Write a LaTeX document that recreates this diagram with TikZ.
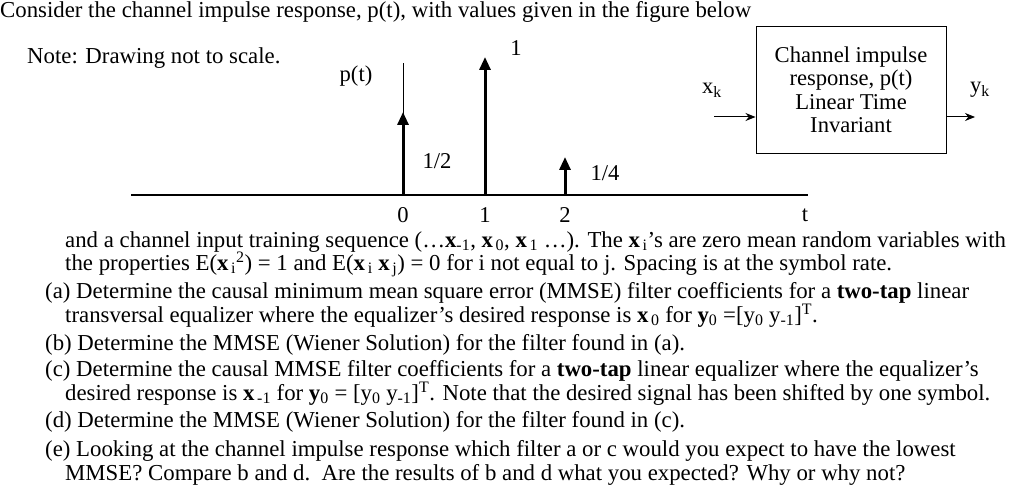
\documentclass[tikz,border=0pt]{standalone}
\usepackage{fontspec}
\setmainfont{Liberation Serif}
\usetikzlibrary{arrows.meta}
\newcommand{\sbs}[1]{\textsubscript{#1}}
\newcommand{\spp}[1]{\textsuperscript{#1}}
\begin{document}
\begin{tikzpicture}[x=1pt,y=-1pt,
  txt/.style={anchor=base west,inner sep=0pt,font=\fontsize{22.8}{26}\selectfont},
  lbl/.style={inner sep=0pt,font=\fontsize{22.6}{26}\selectfont},
  imp/.style={line width=3pt,-{Triangle[length=13pt,width=11pt]}},
  thin/.style={line width=1pt,-{Stealth[length=10pt,width=8pt]}}]
\useasboundingbox (0,0) rectangle (1024,489);
\node[txt] (l0) at (0,18) {Consider the channel impulse response, p(t), with values given in the figure below};
\node[txt] (note) at (27,64) {Note: Drawing not to scale.};
% axis
\coordinate (axL) at (131,195); \coordinate (axR) at (808,195);
\draw[line width=1.4pt] (axL) -- (axR);
\coordinate (pt0) at (403,195); \coordinate (ptop) at (403,63);
\draw[line width=0.8pt] (pt0) -- (ptop);
\node[lbl] (pl) at (356,76) {p(t)};
\coordinate (i0) at (403,112); \coordinate (b1) at (485,195); \coordinate (i1) at (485,57);
\coordinate (b2) at (565,195); \coordinate (i2) at (565,157);
\draw[imp] (pt0) -- (i0);
\draw[imp] (b1) -- (i1);
\draw[imp] (b2) -- (i2);
\node[lbl] (h1) at (516,48) {1};
\node[lbl] (h0) at (437,161) {1/2};
\node[lbl] (h2) at (605,173) {1/4};
\node[lbl] (t0) at (403,215) {0};
\node[lbl] (t1) at (485,215) {1};
\node[lbl] (t2) at (565,215) {2};
\node[lbl] (tt) at (805,215) {t};
% box
\node[draw,line width=1pt,minimum width=190pt,minimum height=127pt,align=center,inner sep=0pt,
  font=\fontsize{22.6}{23.5}\selectfont] (box) at (851,90) {Channel impulse\\response, p(t)\\Linear Time\\Invariant};
\coordinate (inA) at (714,117); \coordinate (outB) at (975,117);
\draw[thin] (inA) -- (inA -| box.west);
\draw[thin] (outB -| box.east) -- (outB);
\node[lbl] (xk) at (712,90) {x\sbs{k}};
\node[lbl] (yk) at (980,90) {y\sbs{k}};
% text
\node[txt] (t1a) at (65,247) {and a channel input training sequence (\dots\textbf{x}\sbs{-1}, \textbf{x}\sbs{\,0}, \textbf{x}\sbs{\,1} \dots). The \textbf{x}\sbs{\,i}'s are zero mean random variables with};
\node[txt] (t1b) at (65,270) {the properties E(\textbf{x}\sbs{\,i}\spp{2}) = 1 and E(\textbf{x}\sbs{\,i} \textbf{x}\sbs{\,j}) = 0 for i not equal to j. Spacing is at the symbol rate.};
\node[txt] (ta1) at (45,298) {(a) Determine the causal minimum mean square error (MMSE) filter coefficients for a \textbf{two-tap} linear};
\node[txt] (ta2) at (65,322) {transversal equalizer where the equalizer's desired response is \textbf{x}\sbs{\,0} for \textbf{y}\sbs{0} =[y\sbs{0} y\sbs{-1}]\spp{T}.};
\node[txt] (tb) at (45,350) {(b) Determine the MMSE (Wiener Solution) for the filter found in (a).};
\node[txt] (tc1) at (45,376) {(c) Determine the causal MMSE filter coefficients for a \textbf{two-tap} linear equalizer where the equalizer's};
\node[txt] (tc2) at (65,400) {desired response is \textbf{x}\sbs{\,-1} for \textbf{y}\sbs{0} = [y\sbs{0} y\sbs{-1}]\spp{T}. Note that the desired signal has been shifted by one symbol.};
\node[txt] (td) at (45,427) {(d) Determine the MMSE (Wiener Solution) for the filter found in (c).};
\node[txt] (te1) at (45,456) {(e) Looking at the channel impulse response which filter a or c would you expect to have the lowest};
\node[txt] (te2) at (65,480) {MMSE? Compare b and d.\ \ Are the results of b and d what you expected? Why or why not?};
\end{tikzpicture}
\end{document}
